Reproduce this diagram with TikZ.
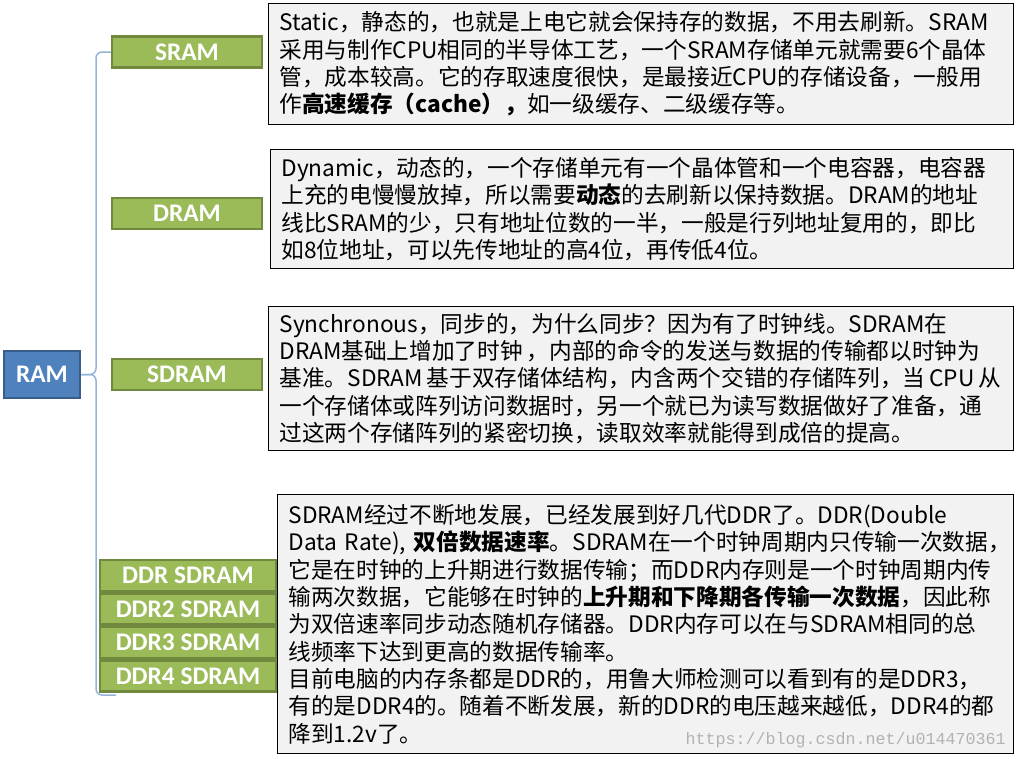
\documentclass[tikz,border=0pt]{standalone}
\usepackage{fontspec}
\usepackage{xcolor}
\setmainfont{Noto Sans CJK SC}
\newfontfamily\labelfont{Carlito}
\newfontfamily\urlfont{Liberation Mono}
\usetikzlibrary{positioning}
\newdimen\px
\px=0.75pt
\definecolor{ramblue}{HTML}{4F81BD}
\definecolor{ramedge}{HTML}{385D8A}
\definecolor{kindgreen}{HTML}{9BBB59}
\definecolor{kindedge}{HTML}{71893F}
\definecolor{linkblue}{HTML}{95B3D7}
\definecolor{notegray}{HTML}{F2F2F2}
\tikzset{
  root/.style={draw=ramedge, fill=ramblue, line width=2.5\px, inner sep=0pt,
    minimum width=76\px, minimum height=47\px, text=white,
    font=\labelfont\bfseries\fontsize{19}{21}\selectfont},
  kind/.style={draw=kindedge, fill=kindgreen, line width=2.5\px, inner sep=0pt,
    minimum width=150\px, minimum height=31\px, text=white,
    font=\labelfont\bfseries\fontsize{19}{21}\selectfont},
  ddr/.style={kind, minimum width=176\px},
  note/.style={draw=black, fill=notegray, line width=1\px, anchor=north west,
    inner xsep=11\px, inner ysep=0pt, align=left,
    font=\fontsize{17}{20.5}\selectfont},
  link/.style={draw=linkblue, line width=1.5\px, rounded corners=6\px},
  stamp/.style={text=black!30, font=\urlfont\fontsize{12.5}{14}\selectfont, inner sep=0pt}
}
\begin{document}
\begin{tikzpicture}[x=1\px, y=-1\px]
  \useasboundingbox (0,0) rectangle (1018,758);
  \node[root] (ram) at (42,374.5) {RAM};
  \node[kind] (sram) at (187,52) {SRAM};
  \node[kind] (dram) at (187,213.5) {DRAM};
  \node[kind] (sdram) at (187,374.5) {SDRAM};
  \node[ddr] (ddr1) at (188,575.5) {DDR SDRAM};
  \node[ddr, below=0pt of ddr1] (ddr2) {DDR2 SDRAM};
  \node[ddr, below=0pt of ddr2] (ddr3) {DDR3 SDRAM};
  \node[ddr, below=0pt of ddr3] (ddr4) {DDR4 SDRAM};

  \coordinate (spine) at (96,374.5);
  \coordinate (tail) at (116,695);
  \draw[link] (ram.east) -- (spine) |- (sram.west);
  \draw[link] (ram.east) -- (spine) |- (tail);

  \node[note, minimum width=745\px, minimum height=121\px, text width=723\px] (sramnote) at (268,3)
    {Static，静态的，也就是上电它就会保持存的数据，不用去刷新。SRAM\\
     采用与制作CPU相同的半导体工艺，一个SRAM存储单元就需要6个晶体\\
     管，成本较高。它的存取速度很快，是最接近CPU的存储设备，一般用\\
     作\textbf{高速缓存（cache），}如一级缓存、二级缓存等。};
  \node[note, minimum width=743\px, minimum height=119\px, text width=721\px] (dramnote) at (270,149)
    {Dynamic，动态的，一个存储单元有一个晶体管和一个电容器，电容器\\
     上充的电慢慢放掉，所以需要\textbf{动态}的去刷新以保持数据。DRAM的地址\\
     线比SRAM的少，只有地址位数的一半，一般是行列地址复用的，即比\\
     如8位地址，可以先传地址的高4位，再传低4位。};
  \node[note, minimum width=745\px, minimum height=144\px, text width=723\px] (sdramnote) at (268,306)
    {Synchronous，同步的，为什么同步？因为有了时钟线。SDRAM在\\
     DRAM基础上增加了时钟\,，内部的命令的发送与数据的传输都以时钟为\\
     基准。SDRAM\,基于双存储体结构，内含两个交错的存储阵列，当\,CPU\,从\\
     一个存储体或阵列访问数据时，另一个就已为读写数据做好了准备，通\\
     过这两个存储阵列的紧密切换，读取效率就能得到成倍的提高。};
  \node[note, minimum width=736\px, minimum height=259\px, text width=714\px] (ddrnote) at (277,494)
    {SDRAM经过不断地发展，已经发展到好几代DDR了。DDR(Double\\
     Data~Rate),~\textbf{双倍数据速率}。SDRAM在一个时钟周期内只传输一次数据，\\
     它是在时钟的上升期进行数据传输；而DDR内存则是一个时钟周期内传\\
     输两次数据，它能够在时钟的\textbf{上升期和下降期各传输一次数据}，因此称\\
     为双倍速率同步动态随机存储器。DDR内存可以在与SDRAM相同的总\\
     线频率下达到更高的数据传输率。\\
     目前电脑的内存条都是DDR的，用鲁大师检测可以看到有的是DDR3，\\
     有的是DDR4的。随着不断发展，新的DDR的电压越来越低，DDR4的都\\
     降到1.2v了。};
  \node[stamp, anchor=base east] (url) at (1006,744) {https://blog.csdn.net/u014470361};
\end{tikzpicture}
\end{document}
